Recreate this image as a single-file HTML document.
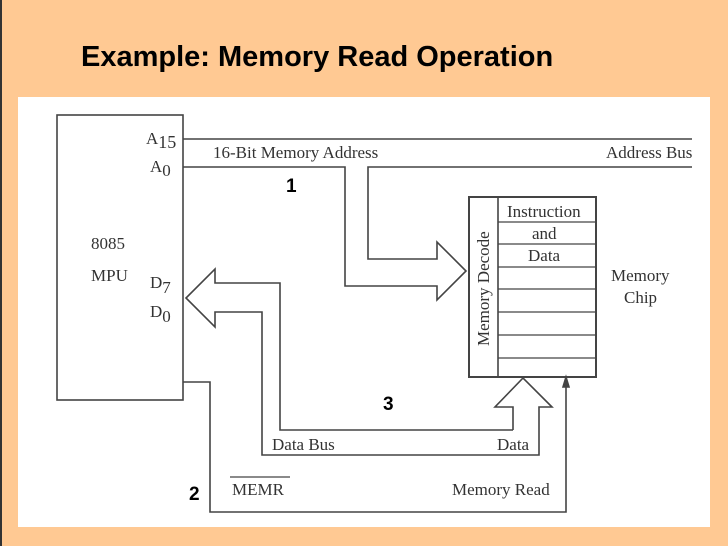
<!DOCTYPE html>
<html><head><style>
body{margin:0;width:728px;height:546px;overflow:hidden;background:#FFC993;}
svg{display:block}
</style></head><body>
<svg width="728" height="546" xmlns="http://www.w3.org/2000/svg" font-family="Liberation Serif, serif" fill="none" stroke="#444" stroke-width="1.6">
<rect x="0" y="0" width="728" height="546" fill="#FFC993" stroke="none"/>
<rect x="0" y="0" width="2" height="546" fill="#333" stroke="none"/>
<text x="81" y="66" font-family="Liberation Sans, sans-serif" font-weight="bold" font-size="29" fill="#000" stroke="none">Example: Memory Read Operation</text>
<rect x="18" y="97" width="692" height="430" fill="#fff" stroke="none"/>
<rect x="57" y="115" width="126" height="285"/>
<polyline points="183,139 692,139"/>
<polyline points="183,167 345,167 345,286 437,286 437,300 466,271 437,242 437,259 368,259 368,167 692,167"/>
<rect x="469" y="197" width="127" height="180" stroke-width="2"/>
<line x1="498" y1="197" x2="498" y2="377"/>
<g stroke-width="1.2">
<line x1="498" y1="222" x2="596" y2="222"/><line x1="498" y1="244" x2="596" y2="244"/>
<line x1="498" y1="267" x2="596" y2="267"/><line x1="498" y1="289" x2="596" y2="289"/>
<line x1="498" y1="312" x2="596" y2="312"/><line x1="498" y1="335" x2="596" y2="335"/>
<line x1="498" y1="358" x2="596" y2="358"/></g>
<polyline points="513,430 280,430 280,283 215,283 215,269 186,298 215,327 215,312 262,312 262,455 539,455 539,407 552,407 523,378 495,407 513,407 513,430"/>
<polyline points="183,382 210,382 210,512 566,512 566,384"/>
<polygon points="566,377 563,387 569,387" fill="#444"/>
<g fill="#333" stroke="none" font-size="17">
<text x="146" y="144">A<tspan font-size="18" dy="4">15</tspan></text>
<text x="150" y="172">A<tspan dy="4">0</tspan></text>
<text x="91" y="249">8085</text>
<text x="91" y="281">MPU</text>
<text x="150" y="288">D<tspan dy="5">7</tspan></text>
<text x="150" y="317">D<tspan dy="5">0</tspan></text>
<text x="213" y="158">16-Bit Memory Address</text>
<text x="606" y="158">Address Bus</text>
<text x="507" y="217">Instruction</text>
<text x="532" y="239">and</text>
<text x="528" y="261">Data</text>
<text x="611" y="281">Memory</text>
<text x="624" y="303">Chip</text>
<text transform="translate(489,346) rotate(-90)">Memory Decode</text>
<text x="272" y="450">Data Bus</text>
<text x="497" y="450">Data</text>
<text x="232" y="495">MEMR</text>
<text x="452" y="495">Memory Read</text>
</g>
<line x1="230" y1="477" x2="290" y2="477" stroke-width="1.2"/>
<g fill="#000" stroke="none" font-family="Liberation Sans, sans-serif" font-weight="bold" font-size="19">
<text x="286" y="192">1</text>
<text x="189" y="500">2</text>
<text x="383" y="410">3</text>
</g>
</svg>
</body></html>
